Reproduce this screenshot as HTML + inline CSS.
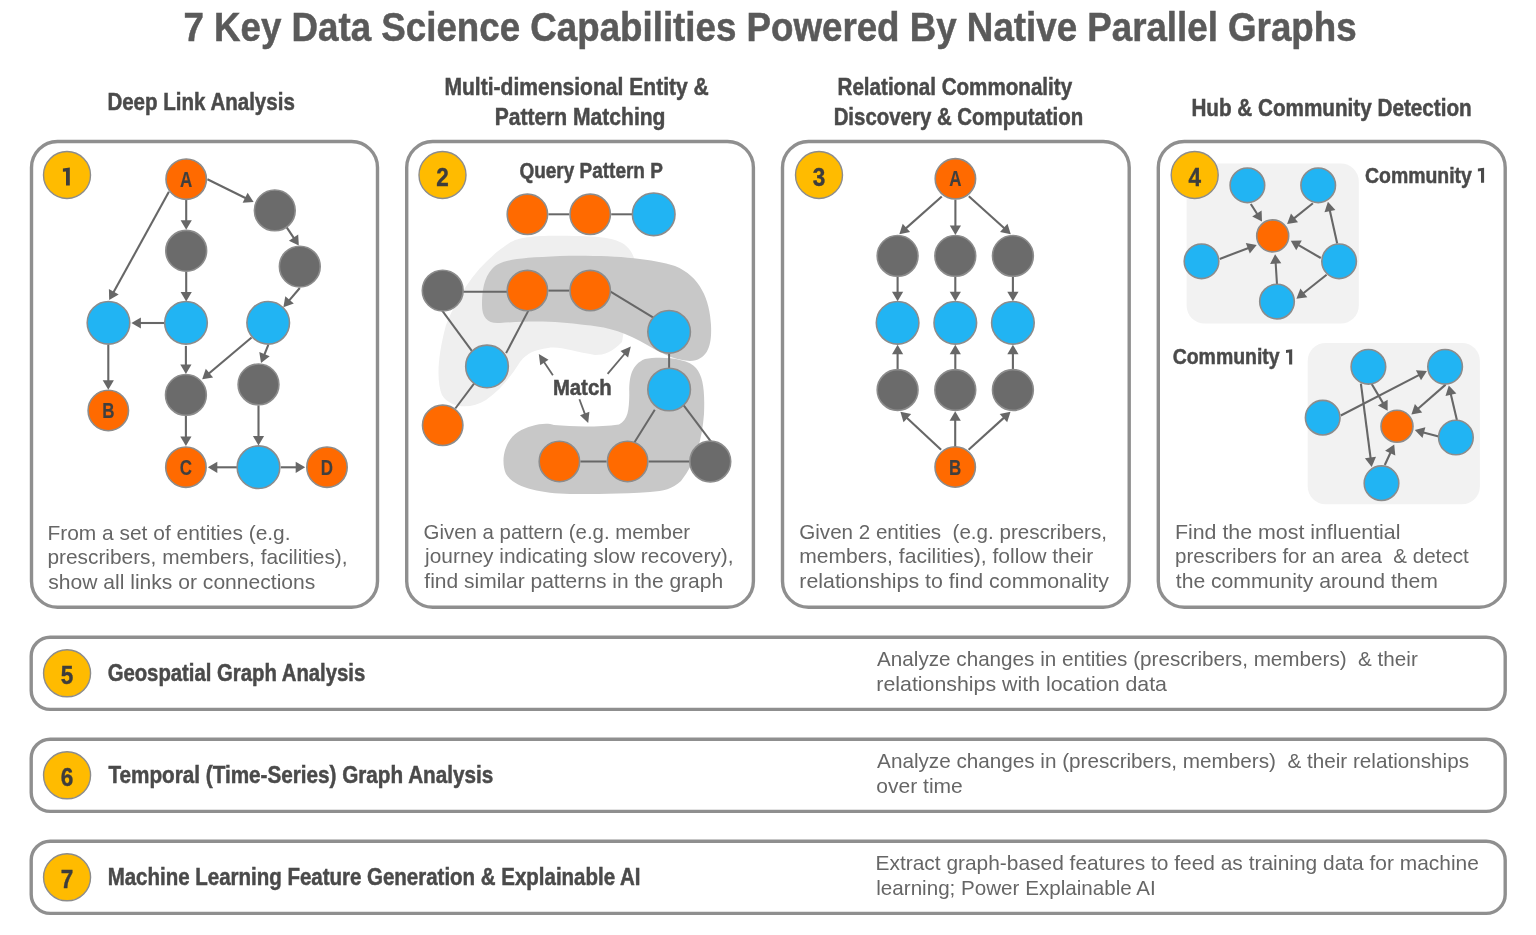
<!DOCTYPE html>
<html><head><meta charset="utf-8"><style>
html,body{margin:0;padding:0;background:#fff;width:1536px;height:935px;overflow:hidden}
svg{display:block;font-family:"Liberation Sans", sans-serif;will-change:transform} text{white-space:pre}
</style></head><body>
<svg width="1536" height="935" viewBox="0 0 1536 935">
<rect width="1536" height="935" fill="#fff"/>
<text x="183.40" y="41" font-size="40" font-weight="bold" fill="#5a5a5a" stroke="#5a5a5a" stroke-width="0.5" text-anchor="start" textLength="1173.20" lengthAdjust="spacingAndGlyphs">7 Key Data Science Capabilities Powered By Native Parallel Graphs</text>
<text x="107.40" y="110" font-size="24" font-weight="bold" fill="#4a4a4a" stroke="#4a4a4a" stroke-width="0.5" text-anchor="start" textLength="187.40" lengthAdjust="spacingAndGlyphs">Deep Link Analysis</text>
<text x="444.40" y="94.6" font-size="24" font-weight="bold" fill="#4a4a4a" stroke="#4a4a4a" stroke-width="0.5" text-anchor="start" textLength="264.40" lengthAdjust="spacingAndGlyphs">Multi-dimensional Entity &amp;</text>
<text x="494.64" y="124.7" font-size="24" font-weight="bold" fill="#4a4a4a" stroke="#4a4a4a" stroke-width="0.5" text-anchor="start" textLength="170.84" lengthAdjust="spacingAndGlyphs">Pattern Matching</text>
<text x="837.52" y="94.6" font-size="24" font-weight="bold" fill="#4a4a4a" stroke="#4a4a4a" stroke-width="0.5" text-anchor="start" textLength="234.58" lengthAdjust="spacingAndGlyphs">Relational Commonality</text>
<text x="833.64" y="124.7" font-size="24" font-weight="bold" fill="#4a4a4a" stroke="#4a4a4a" stroke-width="0.5" text-anchor="start" textLength="249.60" lengthAdjust="spacingAndGlyphs">Discovery &amp; Computation</text>
<text x="1191.40" y="115.7" font-size="24" font-weight="bold" fill="#4a4a4a" stroke="#4a4a4a" stroke-width="0.5" text-anchor="start" textLength="280.30" lengthAdjust="spacingAndGlyphs">Hub &amp; Community Detection</text>
<rect x="31.5" y="141.5" width="346.0" height="465.7" rx="26" ry="26" fill="#fff" stroke="#8f8f8f" stroke-width="3.4"/>
<rect x="406.7" y="141.5" width="346.7" height="465.7" rx="26" ry="26" fill="#fff" stroke="#8f8f8f" stroke-width="3.4"/>
<rect x="782.5" y="141.5" width="346.7" height="465.7" rx="26" ry="26" fill="#fff" stroke="#8f8f8f" stroke-width="3.4"/>
<rect x="1158.3" y="141.5" width="346.9" height="465.7" rx="26" ry="26" fill="#fff" stroke="#8f8f8f" stroke-width="3.4"/>
<line x1="207.4" y1="179.2" x2="246.4" y2="198.5" stroke="#676767" stroke-width="2.1"/>
<polygon points="253.6,202.0 242.6,202.8 247.6,192.8" fill="#676767"/>
<line x1="168.9" y1="191.8" x2="113.1" y2="293.1" stroke="#676767" stroke-width="2.1"/>
<polygon points="109.2,300.1 108.9,289.1 118.7,294.5" fill="#676767"/>
<line x1="186.2" y1="199.5" x2="186.2" y2="221.7" stroke="#676767" stroke-width="2.1"/>
<polygon points="186.2,229.7 180.6,220.2 191.8,220.2" fill="#676767"/>
<line x1="186.2" y1="271.5" x2="186.2" y2="293.5" stroke="#676767" stroke-width="2.1"/>
<polygon points="186.2,301.5 180.6,292.0 191.8,292.0" fill="#676767"/>
<line x1="286.7" y1="227.4" x2="294.4" y2="238.9" stroke="#676767" stroke-width="2.1"/>
<polygon points="298.8,245.6 288.9,240.8 298.2,234.6" fill="#676767"/>
<line x1="299.8" y1="288.0" x2="288.6" y2="301.1" stroke="#676767" stroke-width="2.1"/>
<polygon points="283.4,307.2 285.3,296.3 293.8,303.6" fill="#676767"/>
<line x1="164.1" y1="323.0" x2="139.4" y2="323.0" stroke="#676767" stroke-width="2.1"/>
<polygon points="131.4,323.0 140.9,317.4 140.9,328.6" fill="#676767"/>
<line x1="108.3" y1="344.8" x2="108.3" y2="381.7" stroke="#676767" stroke-width="2.1"/>
<polygon points="108.3,389.7 102.7,380.2 113.9,380.2" fill="#676767"/>
<line x1="185.9" y1="345.9" x2="185.9" y2="366.0" stroke="#676767" stroke-width="2.1"/>
<polygon points="185.9,374.0 180.3,364.5 191.5,364.5" fill="#676767"/>
<line x1="251.6" y1="337.5" x2="208.3" y2="374.0" stroke="#676767" stroke-width="2.1"/>
<polygon points="202.2,379.2 205.8,368.8 213.1,377.4" fill="#676767"/>
<line x1="268.3" y1="344.8" x2="264.0" y2="355.6" stroke="#676767" stroke-width="2.1"/>
<polygon points="261.0,363.0 259.3,352.1 269.7,356.3" fill="#676767"/>
<line x1="185.9" y1="415.7" x2="185.9" y2="438.0" stroke="#676767" stroke-width="2.1"/>
<polygon points="185.9,446.0 180.3,436.5 191.5,436.5" fill="#676767"/>
<line x1="258.5" y1="405.3" x2="258.5" y2="437.5" stroke="#676767" stroke-width="2.1"/>
<polygon points="258.5,445.5 252.9,436.0 264.1,436.0" fill="#676767"/>
<line x1="237.0" y1="467.3" x2="215.8" y2="467.3" stroke="#676767" stroke-width="2.1"/>
<polygon points="207.8,467.3 217.3,461.7 217.3,472.9" fill="#676767"/>
<line x1="280.8" y1="467.3" x2="297.2" y2="467.3" stroke="#676767" stroke-width="2.1"/>
<polygon points="305.2,467.3 295.7,472.9 295.7,461.7" fill="#676767"/>
<circle cx="186.2" cy="179.2" r="20.2" fill="#ff6a00" stroke="#8c8c8c" stroke-width="1.6"/>
<text x="186.2" y="186.79999999999998" font-size="21.2" font-weight="bold" fill="#3f3f3f" stroke="#3f3f3f" stroke-width="0.15" text-anchor="middle" transform="translate(186.2,0) scale(0.8,1) translate(-186.2,0)">A</text>
<circle cx="274.8" cy="210.4" r="20.4" fill="#6b6b6b" stroke="#8c8c8c" stroke-width="1.6"/>
<circle cx="186.2" cy="250.8" r="20.4" fill="#6b6b6b" stroke="#8c8c8c" stroke-width="1.6"/>
<circle cx="299.8" cy="266.6" r="20.4" fill="#6b6b6b" stroke="#8c8c8c" stroke-width="1.6"/>
<circle cx="108.5" cy="322.8" r="21.3" fill="#21b4f3" stroke="#8c8c8c" stroke-width="1.6"/>
<circle cx="186" cy="322.8" r="21.3" fill="#21b4f3" stroke="#8c8c8c" stroke-width="1.6"/>
<circle cx="268.2" cy="322.8" r="21.3" fill="#21b4f3" stroke="#8c8c8c" stroke-width="1.6"/>
<circle cx="185.9" cy="394.9" r="20.4" fill="#6b6b6b" stroke="#8c8c8c" stroke-width="1.6"/>
<circle cx="258.5" cy="384.4" r="20.4" fill="#6b6b6b" stroke="#8c8c8c" stroke-width="1.6"/>
<circle cx="108.3" cy="410.5" r="20.2" fill="#ff6a00" stroke="#8c8c8c" stroke-width="1.6"/>
<text x="108.3" y="418.1" font-size="21.2" font-weight="bold" fill="#3f3f3f" stroke="#3f3f3f" stroke-width="0.15" text-anchor="middle" transform="translate(108.3,0) scale(0.8,1) translate(-108.3,0)">B</text>
<circle cx="185.9" cy="467.2" r="20.2" fill="#ff6a00" stroke="#8c8c8c" stroke-width="1.6"/>
<text x="185.9" y="474.8" font-size="21.2" font-weight="bold" fill="#3f3f3f" stroke="#3f3f3f" stroke-width="0.15" text-anchor="middle" transform="translate(185.9,0) scale(0.8,1) translate(-185.9,0)">C</text>
<circle cx="258.5" cy="467.2" r="21.3" fill="#21b4f3" stroke="#8c8c8c" stroke-width="1.6"/>
<circle cx="327" cy="467.2" r="20.2" fill="#ff6a00" stroke="#8c8c8c" stroke-width="1.6"/>
<text x="327" y="474.8" font-size="21.2" font-weight="bold" fill="#3f3f3f" stroke="#3f3f3f" stroke-width="0.15" text-anchor="middle" transform="translate(327,0) scale(0.8,1) translate(-327,0)">D</text>
<path d="M510,242.6 C520,236 540,235 580,236 C612,237 628,240 634,258 L634,270 L622,342 C612,352 605,355 595,355 C575,352 560,346 548,348 C535,350 528,352 520,362 C510,378 500,390 486,400 C470,410 450,408 442,395 C436,380 438,355 446,325 C460,290 480,262 510,242.6 Z" fill="#efefef"/>
<path d="M492,269 C500,260 515,258 560,256 C610,255 650,258 675,266 C700,276 710,300 711,325 C712,345 708,360 690,361 C672,360 660,352 640,341 C620,330 600,326 585,325 C560,322 540,320 500,323 C488,324 482,318 482,305 C482,290 484,278 492,269 Z" fill="#c8c8c8"/>
<path d="M645,359 C660,356 688,358 696,368 C703,376 705,390 704,414 C702,440 696,462 681,481 C672,489 664,491 650,492 C620,494 595,494 570,494 C540,493 515,488 506,474 C500,460 505,440 518,432 C530,425 545,422 554,425 C575,427 600,427 619,424.4 C628,420 629,410 629.3,395 C629,380 630,365 645,359 Z" fill="#c8c8c8"/>
<line x1="548.4" y1="214.3" x2="569.2" y2="214.3" stroke="#676767" stroke-width="2"/>
<line x1="611.2" y1="214.3" x2="632.7" y2="214.3" stroke="#676767" stroke-width="2"/>
<line x1="548.4" y1="290.6" x2="569.2" y2="290.6" stroke="#676767" stroke-width="2"/>
<line x1="474.4" y1="383.2" x2="455.3" y2="408.5" stroke="#676767" stroke-width="2"/>
<line x1="669.1" y1="352.8" x2="669.1" y2="368.5" stroke="#676767" stroke-width="2"/>
<line x1="580.4" y1="461.5" x2="606.6" y2="461.5" stroke="#676767" stroke-width="2"/>
<line x1="648.6" y1="461.5" x2="689.3" y2="461.5" stroke="#676767" stroke-width="2"/>
<line x1="440.7" y1="291.8" x2="529.4" y2="291.8" stroke="#676767" stroke-width="2"/>
<line x1="609.7" y1="291.1" x2="655.4" y2="318.8" stroke="#676767" stroke-width="2"/>
<line x1="442.2" y1="310.6" x2="473.3" y2="352.9" stroke="#676767" stroke-width="2"/>
<line x1="528.5" y1="310.4" x2="506.1" y2="353.1" stroke="#676767" stroke-width="2"/>
<line x1="654.8" y1="409.8" x2="633.4" y2="444.0" stroke="#676767" stroke-width="2"/>
<line x1="683.3" y1="404.8" x2="712.7" y2="443.9" stroke="#676767" stroke-width="2"/>
<circle cx="527.4" cy="214.3" r="20.2" fill="#ff6a00" stroke="#8c8c8c" stroke-width="1.6"/>
<circle cx="590.2" cy="214.3" r="20.2" fill="#ff6a00" stroke="#8c8c8c" stroke-width="1.6"/>
<circle cx="653.7" cy="214.3" r="21.3" fill="#21b4f3" stroke="#8c8c8c" stroke-width="1.6"/>
<circle cx="442.7" cy="290.6" r="20.4" fill="#6b6b6b" stroke="#8c8c8c" stroke-width="1.6"/>
<circle cx="527.4" cy="290.6" r="20.2" fill="#ff6a00" stroke="#8c8c8c" stroke-width="1.6"/>
<circle cx="590.2" cy="290.6" r="20.2" fill="#ff6a00" stroke="#8c8c8c" stroke-width="1.6"/>
<circle cx="669.1" cy="331.8" r="21.3" fill="#21b4f3" stroke="#8c8c8c" stroke-width="1.6"/>
<circle cx="487" cy="366.4" r="21.3" fill="#21b4f3" stroke="#8c8c8c" stroke-width="1.6"/>
<circle cx="442.7" cy="425.3" r="20.2" fill="#ff6a00" stroke="#8c8c8c" stroke-width="1.6"/>
<circle cx="669.1" cy="389.5" r="21.3" fill="#21b4f3" stroke="#8c8c8c" stroke-width="1.6"/>
<circle cx="559.4" cy="461.5" r="20.2" fill="#ff6a00" stroke="#8c8c8c" stroke-width="1.6"/>
<circle cx="627.6" cy="461.5" r="20.2" fill="#ff6a00" stroke="#8c8c8c" stroke-width="1.6"/>
<circle cx="710.3" cy="461.5" r="20.4" fill="#6b6b6b" stroke="#8c8c8c" stroke-width="1.6"/>
<text x="519.40" y="177.7" font-size="22.5" font-weight="bold" fill="#4a4a4a" stroke="#4a4a4a" stroke-width="0.5" text-anchor="start" textLength="143.50" lengthAdjust="spacingAndGlyphs">Query Pattern P</text>
<text x="552.90" y="394.7" font-size="22.5" font-weight="bold" fill="#4a4a4a" stroke="#4a4a4a" stroke-width="0.5" text-anchor="start" textLength="58.70" lengthAdjust="spacingAndGlyphs">Match</text>
<line x1="552.9" y1="375.3" x2="543.5" y2="361.2" stroke="#676767" stroke-width="1.8"/>
<polygon points="538.8,354.1 548.5,359.7 540.2,365.2" fill="#676767"/>
<line x1="607.6" y1="373.8" x2="625.3" y2="353.0" stroke="#676767" stroke-width="1.8"/>
<polygon points="630.8,346.5 628.1,357.4 620.5,350.9" fill="#676767"/>
<line x1="579.4" y1="399.2" x2="585.2" y2="414.9" stroke="#676767" stroke-width="1.8"/>
<polygon points="588.2,422.9 580.0,415.3 589.4,411.8" fill="#676767"/>
<line x1="941.8" y1="196.5" x2="905.3" y2="228.9" stroke="#676767" stroke-width="2.1"/>
<polygon points="899.3,234.2 902.7,223.7 910.1,232.1" fill="#676767"/>
<line x1="955.4" y1="199.7" x2="955.4" y2="227.0" stroke="#676767" stroke-width="2.1"/>
<polygon points="955.4,235.0 949.8,225.5 961.0,225.5" fill="#676767"/>
<line x1="968.8" y1="196.2" x2="1004.9" y2="228.8" stroke="#676767" stroke-width="2.1"/>
<polygon points="1010.8,234.2 1000.0,232.0 1007.5,223.7" fill="#676767"/>
<line x1="941.1" y1="449.8" x2="906.2" y2="417.2" stroke="#676767" stroke-width="2.1"/>
<polygon points="900.4,411.7 911.2,414.1 903.5,422.3" fill="#676767"/>
<line x1="955.2" y1="447.0" x2="955.2" y2="419.2" stroke="#676767" stroke-width="2.1"/>
<polygon points="955.2,411.2 960.8,420.7 949.6,420.7" fill="#676767"/>
<line x1="968.6" y1="449.8" x2="1004.6" y2="417.1" stroke="#676767" stroke-width="2.1"/>
<polygon points="1010.5,411.7 1007.2,422.2 999.7,413.9" fill="#676767"/>
<line x1="897.6" y1="276.8" x2="897.6" y2="293.2" stroke="#676767" stroke-width="2.1"/>
<polygon points="897.6,301.2 892.0,291.7 903.2,291.7" fill="#676767"/>
<line x1="897.6" y1="369.4" x2="897.6" y2="352.7" stroke="#676767" stroke-width="2.1"/>
<polygon points="897.6,344.7 903.2,354.2 892.0,354.2" fill="#676767"/>
<line x1="955.3" y1="276.8" x2="955.3" y2="293.2" stroke="#676767" stroke-width="2.1"/>
<polygon points="955.3,301.2 949.7,291.7 960.9,291.7" fill="#676767"/>
<line x1="955.3" y1="369.4" x2="955.3" y2="352.7" stroke="#676767" stroke-width="2.1"/>
<polygon points="955.3,344.7 960.9,354.2 949.7,354.2" fill="#676767"/>
<line x1="1012.9" y1="276.8" x2="1012.9" y2="293.2" stroke="#676767" stroke-width="2.1"/>
<polygon points="1012.9,301.2 1007.3,291.7 1018.5,291.7" fill="#676767"/>
<line x1="1012.9" y1="369.4" x2="1012.9" y2="352.7" stroke="#676767" stroke-width="2.1"/>
<polygon points="1012.9,344.7 1018.5,354.2 1007.3,354.2" fill="#676767"/>
<circle cx="955.4" cy="178.8" r="20.2" fill="#ff6a00" stroke="#8c8c8c" stroke-width="1.6"/>
<text x="955.4" y="186.4" font-size="21.2" font-weight="bold" fill="#3f3f3f" stroke="#3f3f3f" stroke-width="0.15" text-anchor="middle" transform="translate(955.4,0) scale(0.8,1) translate(-955.4,0)">A</text>
<circle cx="955.2" cy="467" r="20.2" fill="#ff6a00" stroke="#8c8c8c" stroke-width="1.6"/>
<text x="955.2" y="474.6" font-size="21.2" font-weight="bold" fill="#3f3f3f" stroke="#3f3f3f" stroke-width="0.15" text-anchor="middle" transform="translate(955.2,0) scale(0.8,1) translate(-955.2,0)">B</text>
<circle cx="897.6" cy="255.9" r="20.4" fill="#6b6b6b" stroke="#8c8c8c" stroke-width="1.6"/>
<circle cx="897.6" cy="322.8" r="21.3" fill="#21b4f3" stroke="#8c8c8c" stroke-width="1.6"/>
<circle cx="897.6" cy="390" r="20.4" fill="#6b6b6b" stroke="#8c8c8c" stroke-width="1.6"/>
<circle cx="955.3" cy="255.9" r="20.4" fill="#6b6b6b" stroke="#8c8c8c" stroke-width="1.6"/>
<circle cx="955.3" cy="322.8" r="21.3" fill="#21b4f3" stroke="#8c8c8c" stroke-width="1.6"/>
<circle cx="955.3" cy="390" r="20.4" fill="#6b6b6b" stroke="#8c8c8c" stroke-width="1.6"/>
<circle cx="1012.9" cy="255.9" r="20.4" fill="#6b6b6b" stroke="#8c8c8c" stroke-width="1.6"/>
<circle cx="1012.9" cy="322.8" r="21.3" fill="#21b4f3" stroke="#8c8c8c" stroke-width="1.6"/>
<circle cx="1012.9" cy="390" r="20.4" fill="#6b6b6b" stroke="#8c8c8c" stroke-width="1.6"/>
<rect x="1186.6" y="163.4" width="172.2" height="160.1" rx="18" fill="#f2f2f2"/>
<rect x="1307.7" y="342.9" width="172.2" height="161.4" rx="18" fill="#f2f2f2"/>
<line x1="1250.8" y1="204.0" x2="1257.7" y2="214.8" stroke="#676767" stroke-width="2.1"/>
<polygon points="1262.0,221.5 1252.2,216.5 1261.6,210.5" fill="#676767"/>
<line x1="1312.9" y1="203.3" x2="1293.4" y2="218.9" stroke="#676767" stroke-width="2.1"/>
<polygon points="1287.1,223.9 1291.0,213.6 1298.0,222.3" fill="#676767"/>
<line x1="1219.7" y1="258.9" x2="1249.2" y2="247.7" stroke="#676767" stroke-width="2.1"/>
<polygon points="1256.7,244.9 1249.8,253.5 1245.8,243.0" fill="#676767"/>
<line x1="1320.8" y1="258.0" x2="1297.7" y2="244.7" stroke="#676767" stroke-width="2.1"/>
<polygon points="1290.8,240.7 1301.8,240.6 1296.2,250.3" fill="#676767"/>
<line x1="1277.0" y1="284.2" x2="1275.6" y2="262.2" stroke="#676767" stroke-width="2.1"/>
<polygon points="1275.1,254.2 1281.3,263.3 1270.1,264.0" fill="#676767"/>
<line x1="1337.2" y1="243.5" x2="1329.6" y2="209.6" stroke="#676767" stroke-width="2.1"/>
<polygon points="1327.9,201.8 1335.4,209.9 1324.5,212.3" fill="#676767"/>
<line x1="1326.6" y1="274.8" x2="1302.7" y2="293.8" stroke="#676767" stroke-width="2.1"/>
<polygon points="1296.4,298.8 1300.4,288.5 1307.3,297.3" fill="#676767"/>
<circle cx="1247.4" cy="185.3" r="17.3" fill="#21b4f3" stroke="#8c8c8c" stroke-width="1.6"/>
<circle cx="1318.2" cy="185.3" r="17.3" fill="#21b4f3" stroke="#8c8c8c" stroke-width="1.6"/>
<circle cx="1272.7" cy="235.9" r="16.0" fill="#ff6a00" stroke="#8c8c8c" stroke-width="1.6"/>
<circle cx="1201.5" cy="261.3" r="17.3" fill="#21b4f3" stroke="#8c8c8c" stroke-width="1.6"/>
<circle cx="1339.1" cy="261.3" r="17.3" fill="#21b4f3" stroke="#8c8c8c" stroke-width="1.6"/>
<circle cx="1277" cy="301.6" r="17.3" fill="#21b4f3" stroke="#8c8c8c" stroke-width="1.6"/>
<line x1="1340.8" y1="415.5" x2="1419.8" y2="374.6" stroke="#676767" stroke-width="2.1"/>
<polygon points="1426.9,370.9 1421.0,380.2 1415.9,370.3" fill="#676767"/>
<line x1="1371.7" y1="384.0" x2="1383.5" y2="403.9" stroke="#676767" stroke-width="2.1"/>
<polygon points="1387.6,410.8 1377.9,405.5 1387.6,399.8" fill="#676767"/>
<line x1="1360.9" y1="383.7" x2="1370.7" y2="459.0" stroke="#676767" stroke-width="2.1"/>
<polygon points="1371.7,466.9 1364.9,458.2 1376.0,456.8" fill="#676767"/>
<line x1="1445.6" y1="384.6" x2="1417.4" y2="409.2" stroke="#676767" stroke-width="2.1"/>
<polygon points="1411.4,414.5 1414.9,404.0 1422.2,412.5" fill="#676767"/>
<line x1="1438.7" y1="436.6" x2="1422.5" y2="432.2" stroke="#676767" stroke-width="2.1"/>
<polygon points="1414.8,430.1 1425.4,427.2 1422.5,438.0" fill="#676767"/>
<line x1="1456.9" y1="420.1" x2="1450.6" y2="393.3" stroke="#676767" stroke-width="2.1"/>
<polygon points="1448.8,385.5 1456.4,393.5 1445.5,396.0" fill="#676767"/>
<line x1="1384.8" y1="465.0" x2="1390.9" y2="451.8" stroke="#676767" stroke-width="2.1"/>
<polygon points="1394.2,444.5 1395.3,455.5 1385.1,450.8" fill="#676767"/>
<circle cx="1368.4" cy="366.8" r="17.3" fill="#21b4f3" stroke="#8c8c8c" stroke-width="1.6"/>
<circle cx="1445.1" cy="366.8" r="17.3" fill="#21b4f3" stroke="#8c8c8c" stroke-width="1.6"/>
<circle cx="1322.7" cy="417.7" r="17.3" fill="#21b4f3" stroke="#8c8c8c" stroke-width="1.6"/>
<circle cx="1397" cy="426.3" r="16.0" fill="#ff6a00" stroke="#8c8c8c" stroke-width="1.6"/>
<circle cx="1455.9" cy="437.5" r="17.3" fill="#21b4f3" stroke="#8c8c8c" stroke-width="1.6"/>
<circle cx="1381.5" cy="483.2" r="17.3" fill="#21b4f3" stroke="#8c8c8c" stroke-width="1.6"/>
<text x="1365.00" y="182.8" font-size="22.5" font-weight="bold" fill="#4a4a4a" stroke="#4a4a4a" stroke-width="0.5" text-anchor="start" textLength="106.90" lengthAdjust="spacingAndGlyphs">Community</text>
<path d="M1477.8999999999999,168.4 L1484.1,167.70000000000002 L1484.1,182.8 L1481.0,182.8 L1481.0,170.9 L1477.8999999999999,171.4 Z" fill="#4a4a4a"/>
<text x="1172.70" y="364.4" font-size="22.5" font-weight="bold" fill="#4a4a4a" stroke="#4a4a4a" stroke-width="0.5" text-anchor="start" textLength="106.90" lengthAdjust="spacingAndGlyphs">Community</text>
<path d="M1286.0,350.0 L1292.2,349.29999999999995 L1292.2,364.4 L1289.1000000000001,364.4 L1289.1000000000001,352.5 L1286.0,353.0 Z" fill="#4a4a4a"/>
<circle cx="67" cy="175" r="23.5" fill="#ffbb00" stroke="#8c8c8c" stroke-width="1.4"/>
<path d="M62.9,168.6 L69.8,167.6 L69.8,185.5 L66,185.5 L66,171.4 L62.9,171.7 Z" fill="#3d3d3d"/>
<circle cx="442.5" cy="175" r="23.5" fill="#ffbb00" stroke="#8c8c8c" stroke-width="1.4"/>
<text x="442.5" y="185.6" font-size="25" font-weight="bold" fill="#3d3d3d" stroke="#3d3d3d" stroke-width="0.4" text-anchor="middle" transform="translate(442.5,0) scale(0.9,1) translate(-442.5,0)">2</text>
<circle cx="819" cy="175" r="23.5" fill="#ffbb00" stroke="#8c8c8c" stroke-width="1.4"/>
<text x="819" y="185.6" font-size="25" font-weight="bold" fill="#3d3d3d" stroke="#3d3d3d" stroke-width="0.4" text-anchor="middle" transform="translate(819,0) scale(0.9,1) translate(-819,0)">3</text>
<circle cx="1194.7" cy="175" r="23.5" fill="#ffbb00" stroke="#8c8c8c" stroke-width="1.4"/>
<text x="1194.7" y="185.6" font-size="25" font-weight="bold" fill="#3d3d3d" stroke="#3d3d3d" stroke-width="0.4" text-anchor="middle" transform="translate(1194.7,0) scale(0.9,1) translate(-1194.7,0)">4</text>
<text x="47.40" y="539.7" font-size="20.7" font-weight="normal" fill="#666666" text-anchor="start" textLength="243.20" lengthAdjust="spacingAndGlyphs">From a set of entities (e.g.</text>
<text x="47.40" y="564.1" font-size="20.7" font-weight="normal" fill="#666666" text-anchor="start" textLength="300.20" lengthAdjust="spacingAndGlyphs">prescribers, members, facilities),</text>
<text x="48.20" y="588.5" font-size="20.7" font-weight="normal" fill="#666666" text-anchor="start" textLength="267.16" lengthAdjust="spacingAndGlyphs">show all links or connections</text>
<text x="423.52" y="538.9" font-size="20.7" font-weight="normal" fill="#666666" text-anchor="start" textLength="266.60" lengthAdjust="spacingAndGlyphs">Given a pattern (e.g. member</text>
<text x="425.12" y="563.3" font-size="20.7" font-weight="normal" fill="#666666" text-anchor="start" textLength="308.50" lengthAdjust="spacingAndGlyphs">journey indicating slow recovery),</text>
<text x="424.32" y="587.7" font-size="20.7" font-weight="normal" fill="#666666" text-anchor="start" textLength="298.82" lengthAdjust="spacingAndGlyphs">find similar patterns in the graph</text>
<text x="799.30" y="538.9" font-size="20.7" font-weight="normal" fill="#666666" text-anchor="start" textLength="307.64" lengthAdjust="spacingAndGlyphs">Given 2 entities  (e.g. prescribers,</text>
<text x="799.30" y="563.3" font-size="20.7" font-weight="normal" fill="#666666" text-anchor="start" textLength="293.94" lengthAdjust="spacingAndGlyphs">members, facilities), follow their</text>
<text x="799.30" y="587.7" font-size="20.7" font-weight="normal" fill="#666666" text-anchor="start" textLength="309.60" lengthAdjust="spacingAndGlyphs">relationships to find commonality</text>
<text x="1174.96" y="538.9" font-size="20.7" font-weight="normal" fill="#666666" text-anchor="start" textLength="225.52" lengthAdjust="spacingAndGlyphs">Find the most influential</text>
<text x="1174.96" y="563.3" font-size="20.7" font-weight="normal" fill="#666666" text-anchor="start" textLength="293.82" lengthAdjust="spacingAndGlyphs">prescribers for an area  &amp; detect</text>
<text x="1175.76" y="587.7" font-size="20.7" font-weight="normal" fill="#666666" text-anchor="start" textLength="262.18" lengthAdjust="spacingAndGlyphs">the community around them</text>
<rect x="31.2" y="637.2" width="1474.0" height="72.2" rx="19" ry="19" fill="#fff" stroke="#8f8f8f" stroke-width="3.4"/>
<circle cx="67.05" cy="673.3" r="23.5" fill="#ffbb00" stroke="#8c8c8c" stroke-width="1.4"/>
<text x="67.05" y="683.9" font-size="25" font-weight="bold" fill="#3d3d3d" stroke="#3d3d3d" stroke-width="0.4" text-anchor="middle" transform="translate(67.05,0) scale(0.9,1) translate(-67.05,0)">5</text>
<rect x="31.2" y="739.2" width="1474.0" height="72.2" rx="19" ry="19" fill="#fff" stroke="#8f8f8f" stroke-width="3.4"/>
<circle cx="67.05" cy="775.3" r="23.5" fill="#ffbb00" stroke="#8c8c8c" stroke-width="1.4"/>
<text x="67.05" y="785.9" font-size="25" font-weight="bold" fill="#3d3d3d" stroke="#3d3d3d" stroke-width="0.4" text-anchor="middle" transform="translate(67.05,0) scale(0.9,1) translate(-67.05,0)">6</text>
<rect x="31.2" y="841.2" width="1474.0" height="72.2" rx="19" ry="19" fill="#fff" stroke="#8f8f8f" stroke-width="3.4"/>
<circle cx="67.05" cy="877.3" r="23.5" fill="#ffbb00" stroke="#8c8c8c" stroke-width="1.4"/>
<text x="67.05" y="887.9" font-size="25" font-weight="bold" fill="#3d3d3d" stroke="#3d3d3d" stroke-width="0.4" text-anchor="middle" transform="translate(67.05,0) scale(0.9,1) translate(-67.05,0)">7</text>
<text x="107.64" y="680.8" font-size="24" font-weight="bold" fill="#4a4a4a" stroke="#4a4a4a" stroke-width="0.5" text-anchor="start" textLength="257.60" lengthAdjust="spacingAndGlyphs">Geospatial Graph Analysis</text>
<text x="108.44" y="782.9" font-size="24" font-weight="bold" fill="#4a4a4a" stroke="#4a4a4a" stroke-width="0.5" text-anchor="start" textLength="384.80" lengthAdjust="spacingAndGlyphs">Temporal (Time-Series) Graph Analysis</text>
<text x="107.64" y="884.9" font-size="24" font-weight="bold" fill="#4a4a4a" stroke="#4a4a4a" stroke-width="0.5" text-anchor="start" textLength="532.84" lengthAdjust="spacingAndGlyphs">Machine Learning Feature Generation &amp; Explainable AI</text>
<text x="877.10" y="665.8" font-size="20.7" font-weight="normal" fill="#666666" text-anchor="start" textLength="540.70" lengthAdjust="spacingAndGlyphs">Analyze changes in entities (prescribers, members)  &amp; their</text>
<text x="876.30" y="690.8" font-size="20.7" font-weight="normal" fill="#666666" text-anchor="start" textLength="290.70" lengthAdjust="spacingAndGlyphs">relationships with location data</text>
<text x="877.10" y="767.9" font-size="20.7" font-weight="normal" fill="#666666" text-anchor="start" textLength="591.92" lengthAdjust="spacingAndGlyphs">Analyze changes in (prescribers, members)  &amp; their relationships</text>
<text x="876.30" y="792.9" font-size="20.7" font-weight="normal" fill="#666666" text-anchor="start" textLength="86.50" lengthAdjust="spacingAndGlyphs">over time</text>
<text x="875.50" y="870.4" font-size="20.7" font-weight="normal" fill="#666666" text-anchor="start" textLength="603.30" lengthAdjust="spacingAndGlyphs">Extract graph-based features to feed as training data for machine</text>
<text x="876.30" y="895.4" font-size="20.7" font-weight="normal" fill="#666666" text-anchor="start" textLength="279.42" lengthAdjust="spacingAndGlyphs">learning; Power Explainable AI</text>
</svg></body></html>
